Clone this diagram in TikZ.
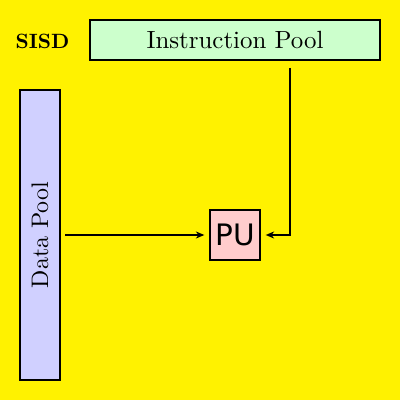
\documentclass[tikz,border=0pt]{standalone}
\usepackage{fontspec}
\newfontfamily\pufont{DejaVu Sans}
\newfontfamily\poolfont{lmroman10-regular.otf}
\newfontfamily\sisdfont{lmroman10-bold.otf}
\usetikzlibrary{arrows.meta, positioning}
\definecolor{bgcol}{HTML}{FFF200}
\definecolor{instrcol}{HTML}{CCFFCC}
\definecolor{datacol}{HTML}{D0D0FF}
\definecolor{pucol}{HTML}{FFCCCC}

\begin{document}
\begin{tikzpicture}[
    x=0.025cm, y=-0.025cm,
    pool/.style={rectangle, draw, line width=1pt, inner sep=0pt},
    arr/.style={-{Stealth[length=6pt, width=5pt]}, line width=1pt},
]
% background
\fill[bgcol] (0,0) rectangle (400,400);
\useasboundingbox (0,0) rectangle (400,400);

\node[font=\sisdfont\fontsize{14.7}{17}\selectfont] (sisd) at (42.5,41) {SISD};

\node[pool, fill=instrcol, minimum width=290*0.025cm, minimum height=40*0.025cm,
    font=\poolfont\fontsize{17.7}{21}\selectfont] (instr) at (235,40) {Instruction Pool};

\node[pool, fill=datacol, minimum width=40*0.025cm, minimum height=290*0.025cm]
    (data) at (40,235) {};
\node[rotate=90, font=\poolfont\fontsize{17}{20}\selectfont] (datalabel) at (data.center) {Data Pool};

\node[pool, fill=pucol, minimum width=50*0.025cm, minimum height=50*0.025cm,
    font=\pufont\fontsize{21}{24}\selectfont] (pu) at (235,235) {PU};

% Arrows
\coordinate (dataout) at (65,235);
\coordinate (instrout) at (290,68);
\draw[arr] (dataout) -- ([xshift=-5*0.025cm]pu.west);
\draw[arr] (instrout) |- ([xshift=5*0.025cm]pu.east);

\end{tikzpicture}
\end{document}
